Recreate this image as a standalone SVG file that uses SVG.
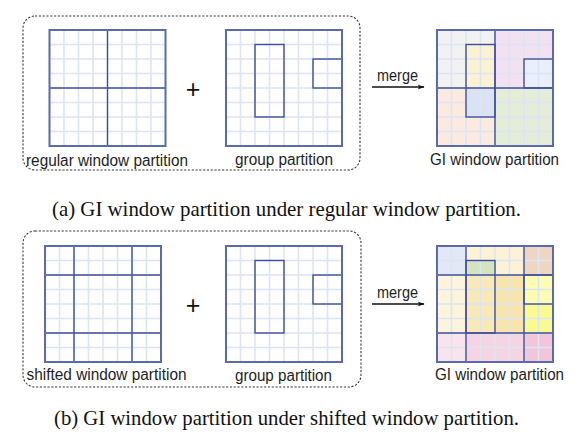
<svg xmlns="http://www.w3.org/2000/svg" width="583" height="440" viewBox="0 0 583 440">
<style>
.bg{fill:#ffffff}
.lg{fill:none;stroke:#dce5f3;stroke-width:1.6}
.ob{fill:none;stroke:#5a6aaa;stroke-width:2}
.dk{fill:none;stroke:#3f5196;stroke-width:1.4}
.box{fill:none;stroke:#3a3a3a;stroke-width:1.1;stroke-dasharray:2.2 1.6}
.lbl{font-family:"Liberation Sans",Arial,sans-serif;font-size:16px;fill:#1e1e1e}
.cap{font-family:"Liberation Serif","Times New Roman",serif;font-size:21px;fill:#111}
.plus{font-family:"Liberation Sans",Arial,sans-serif;font-size:25px;fill:#111}
.arr{fill:none;stroke:#111;stroke-width:1.5}
</style>
<defs>
<path id="grid" d="M14.5 0V116M29 0V116M43.5 0V116M58 0V116M72.5 0V116M87 0V116M101.5 0V116M0 14.5H116M0 29H116M0 43.5H116M0 58H116M0 72.5H116M0 87H116M0 101.5H116"/>
<marker id="ah" viewBox="0 0 10 10" refX="9" refY="5" markerWidth="7" markerHeight="7" orient="auto" markerUnits="userSpaceOnUse">
<path d="M0 1.5L10 5L0 8.5L2.5 5Z" fill="#111"/>
</marker>
</defs>
<rect width="583" height="440" fill="#ffffff"/>

<!-- Row (a) -->
<g id="box-a"><rect class="box" x="23" y="16" width="337" height="154" rx="12"/></g>

<g id="regular-window">
<rect class="bg" x="49.5" y="30" width="116" height="116"/>
<use href="#grid" class="lg" x="49.5" y="30"/>
<path class="dk" d="M107.5 30V146M49.5 88H165.5"/>
<rect class="ob" x="49.5" y="30" width="116" height="116"/>
<text class="lbl" x="26" y="166" textLength="162" lengthAdjust="spacingAndGlyphs">regular window partition</text>
</g>

<g id="plus-a"><text class="plus" x="193" y="98" text-anchor="middle">+</text></g>

<g id="group-a">
<rect class="bg" x="226" y="30" width="116" height="116"/>
<use href="#grid" class="lg" x="226" y="30"/>
<rect class="dk" x="255" y="44.5" width="29" height="72.5"/>
<rect class="dk" x="313" y="59" width="29" height="29"/>
<rect class="ob" x="226" y="30" width="116" height="116"/>
<text class="lbl" x="235" y="165" textLength="98" lengthAdjust="spacingAndGlyphs">group partition</text>
</g>

<g id="gi-a">
<rect fill="#f2f2f2" x="437" y="30" width="58" height="58"/>
<rect fill="#f2e1f1" x="495" y="30" width="58" height="58"/>
<rect fill="#fbeadf" x="437" y="88" width="58" height="58"/>
<rect fill="#e5edd8" x="495" y="88" width="58" height="58"/>
<rect fill="#fbf2d4" x="466" y="44.5" width="29" height="43.5"/>
<rect fill="#dbe2f3" x="466" y="88" width="29" height="29"/>
<rect fill="#e9effc" x="524" y="59" width="29" height="29"/>
<use href="#grid" class="lg" x="437" y="30"/>
<path class="dk" d="M495 30V146M437 88H553"/>
<rect class="dk" x="466" y="44.5" width="29" height="72.5"/>
<rect class="dk" x="524" y="59" width="29" height="29"/>
<rect class="ob" x="437" y="30" width="116" height="116"/>
<text class="lbl" x="430" y="165" textLength="129" lengthAdjust="spacingAndGlyphs">GI window partition</text>
</g>

<g id="caption-a"><text class="cap" x="52" y="216" textLength="469" lengthAdjust="spacingAndGlyphs">(a) GI window partition under regular window partition.</text></g>

<!-- Row (b) -->
<g id="box-b"><rect class="box" x="23" y="231" width="338" height="156" rx="12"/></g>

<g id="shifted-window">
<rect class="bg" x="45" y="246" width="116" height="116"/>
<use href="#grid" class="lg" x="45" y="246"/>
<path class="dk" d="M74 246V362M132 246V362M45 275H161M45 333H161"/>
<rect class="ob" x="45" y="246" width="116" height="116"/>
<text class="lbl" x="26.5" y="380" textLength="160" lengthAdjust="spacingAndGlyphs">shifted window partition</text>
</g>

<g id="plus-b"><text class="plus" x="193" y="314" text-anchor="middle">+</text></g>

<g id="group-b">
<rect class="bg" x="226" y="246" width="116" height="116"/>
<use href="#grid" class="lg" x="226" y="246"/>
<rect class="dk" x="255" y="260.5" width="29" height="72.5"/>
<rect class="dk" x="313" y="275" width="29" height="29"/>
<rect class="ob" x="226" y="246" width="116" height="116"/>
<text class="lbl" x="235" y="381" textLength="97" lengthAdjust="spacingAndGlyphs">group partition</text>
</g>

<g id="gi-b">
<rect fill="#e2e8f5" x="437" y="246" width="29" height="29"/>
<rect fill="#fcf3d7" x="466" y="246" width="58" height="29"/>
<rect fill="#d5e3c1" x="466" y="260.5" width="29" height="14.5"/>
<rect fill="#efd6c3" x="524" y="246" width="29" height="29"/>
<rect fill="#fdf4dd" x="437" y="275" width="29" height="58"/>
<rect fill="#f9e9b9" x="466" y="275" width="29" height="58"/>
<rect fill="#f8e5ad" x="495" y="275" width="29" height="58"/>
<rect fill="#fdfcb3" x="524" y="275" width="29" height="29"/>
<rect fill="#fbfa92" x="524" y="304" width="29" height="29"/>
<rect fill="#f9e3ec" x="437" y="333" width="29" height="29"/>
<rect fill="#f5d4e3" x="466" y="333" width="58" height="29"/>
<rect fill="#f1c6d9" x="524" y="333" width="29" height="29"/>
<use href="#grid" class="lg" x="437" y="246"/>
<path class="dk" d="M466 246V362M524 246V362M437 275H553M437 333H553"/>
<rect class="dk" x="466" y="260.5" width="29" height="72.5"/>
<rect class="dk" x="524" y="275" width="29" height="29"/>
<rect class="ob" x="437" y="246" width="116" height="116"/>
<text class="lbl" x="435" y="380" textLength="129" lengthAdjust="spacingAndGlyphs">GI window partition</text>
</g>

<g id="caption-b"><text class="cap" x="54" y="425" textLength="465" lengthAdjust="spacingAndGlyphs">(b) GI window partition under shifted window partition.</text></g>

<!-- Connectors -->
<g id="connectors">
<line class="arr" x1="372" y1="87" x2="424" y2="87" marker-end="url(#ah)"/>
<text class="lbl" x="377" y="81" textLength="41" lengthAdjust="spacingAndGlyphs">merge</text>
<line class="arr" x1="372" y1="304" x2="424" y2="304" marker-end="url(#ah)"/>
<text class="lbl" x="377" y="298" textLength="41" lengthAdjust="spacingAndGlyphs">merge</text>
</g>
</svg>
